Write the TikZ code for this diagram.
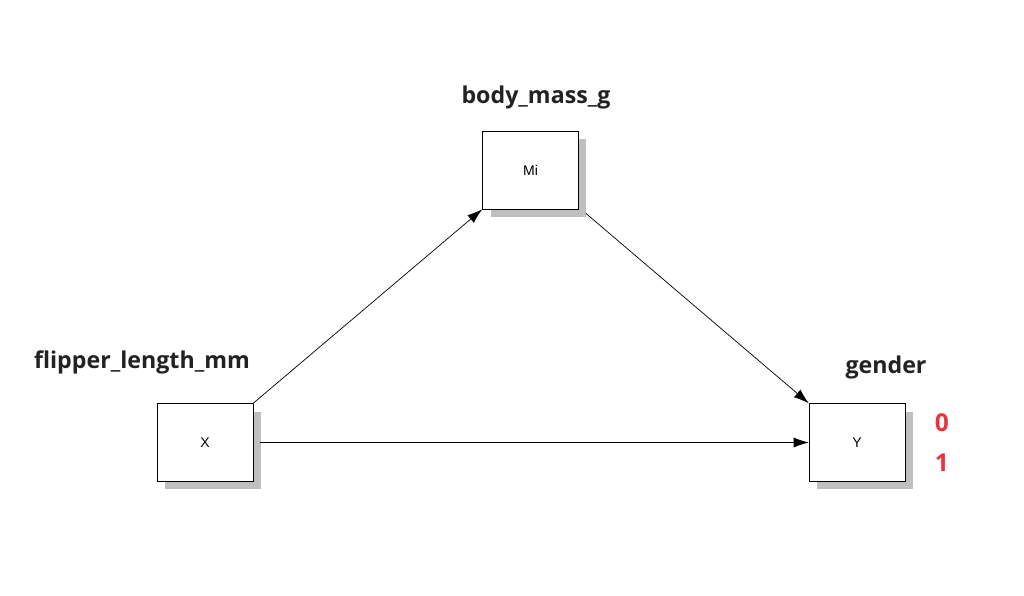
\documentclass[tikz,border=0pt]{standalone}
\usepackage{fontspec}
\setmainfont{Open Sans}
\newfontfamily\boxfont{Liberation Sans}
\usetikzlibrary{arrows.meta,shadows}
\definecolor{labred}{HTML}{E8333F}
\definecolor{labgray}{HTML}{222222}
\tikzset{
  varbox/.style={draw, fill=white, minimum width=1.92cm, minimum height=1.56cm,
    font=\boxfont\fontsize{8}{9}\selectfont,
    drop shadow={shadow xshift=0.16cm, shadow yshift=-0.16cm, fill=black!25, opacity=1}},
  varname/.style={font=\fontsize{13.2}{15}\selectfont\bfseries, text=labgray},
  catval/.style={font=\fontsize{14}{16}\selectfont\bfseries, text=labred},
  path/.style={-{Latex[length=0.3cm,width=0.2cm]}, thin}
}
\begin{document}
\begin{tikzpicture}[x=0.02cm,y=-0.02cm]
\useasboundingbox (0,0) rectangle (1024,595);
\node[varbox] (Mi) at (530.5,170) {Mi};
\node[varbox] (X) at (205,442.5) {X};
\node[varbox] (Y) at (857,442.5) {Y};
\node[varname] (mlab) at (536,97) {body\_mass\_g};
\node[varname] (xlab) at (142,362) {flipper\_length\_mm};
\node[varname] (ylab) at (886,367) {gender};
\node[catval] (zero) at (942,423) {0};
\node[catval] (one) at (942,463) {1};
\draw[path] (X.north east) -- (Mi.south west);
\draw[path] ([xshift=0.14cm,yshift=-0.08cm]Mi.south east) -- (Y.north west);
\draw[path, shorten <=0.14cm] (X.east) -- (Y.west);
\end{tikzpicture}
\end{document}
